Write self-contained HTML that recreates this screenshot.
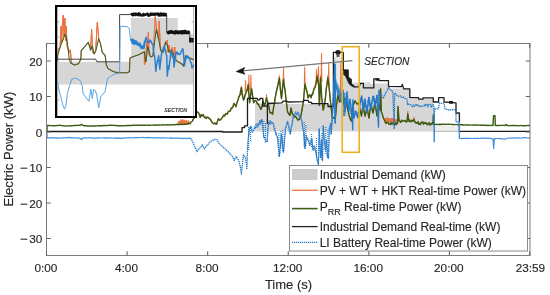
<!DOCTYPE html><html><head><meta charset="utf-8"><style>html,body{margin:0;padding:0;background:#fff;width:550px;height:295px;overflow:hidden}svg{display:block}text{font-family:"Liberation Sans",Arial,sans-serif;fill:#262626;stroke:#262626;stroke-width:0.14px}</style></head><body><svg width="550" height="295" viewBox="0 0 550 295"><polygon points="255.0,131.6 255.0,103.5 263.3,103.5 263.3,104.0 333.4,104.0 333.4,57.0 343.3,57.0 343.3,76.0 350.0,78.0 351.0,82.5 366.5,82.5 366.5,82.3 370.5,82.3 370.5,84.0 374.0,84.0 374.0,83.4 388.5,83.4 388.5,88.5 409.8,88.5 409.8,98.8 433.3,98.8 433.3,131.6" fill="#d6d6d6"/><rect x="335.5" y="55" width="5.5" height="30" fill="#fff" opacity="0.45"/><rect x="433.3" y="126" width="26.1" height="5" fill="#eeeeee"/><path d="M433.3 131.3H459.4" stroke="#b5b5b5" stroke-width="1"/><polyline points="192.5,121.0 193.4,118.8 194.3,118.0 195.1,116.4 195.9,115.0 196.7,111.6 197.6,112.1 198.5,112.8 199.5,115.0 200.3,117.5 201.0,114.6 202.0,116.0 203.2,114.6 204.0,116.6 204.8,117.6 205.6,117.0 206.3,118.6 207.0,117.3 207.8,117.2 208.5,117.6 209.2,118.7 210.1,119.0 210.9,120.1 211.8,122.0 212.5,122.6 213.3,123.6 214.0,123.7 214.7,122.9 215.4,123.6 216.2,124.3 216.9,123.7 217.7,120.3 218.4,118.7 219.1,119.9 219.8,120.2 220.6,119.4 221.3,118.9 222.0,117.8 222.8,116.9 223.7,115.2 224.5,116.1 225.3,114.4 226.0,113.4 226.7,114.1 227.4,114.0 228.2,111.8 228.9,111.3 229.6,111.0 230.4,110.8 231.3,108.0 232.2,108.0 233.0,106.8 233.8,103.4 235.0,105.0 236.0,106.7 237.0,102.4 238.0,100.0 239.0,96.5 240.0,94.9 240.7,89.6 241.4,86.5 242.4,94.8 243.5,100.0 244.3,98.5 245.2,94.1 246.0,92.6 246.7,90.6 247.5,88.0 248.2,83.5 248.9,94.0 249.6,102.6 250.6,95.3 251.6,88.0 252.6,95.9 253.6,102.6 254.5,101.1 255.5,100.4 256.4,101.3 257.4,104.0 258.4,104.0 259.3,106.2 260.1,107.7 261.0,109.4 262.0,106.6 263.0,101.3 263.8,103.2 264.5,105.4 265.5,102.7 266.5,97.9 267.2,101.3 267.9,102.1 268.6,105.4 270.0,112.8 270.9,112.6 271.7,113.2 272.6,114.2 273.5,107.8 274.4,103.1 275.3,97.2 276.2,92.0 277.1,87.8 278.0,83.5 279.4,75.8 280.5,89.6 281.5,98.6 282.5,87.0 283.5,77.4 284.2,84.6 285.0,89.2 286.2,101.3 286.9,106.2 287.6,112.0 288.7,113.7 289.9,115.5 291.0,108.0 292.3,114.0 293.0,114.5 293.7,115.4 294.5,116.9 295.2,116.2 295.9,117.0 297.0,118.5 297.8,120.1 298.6,119.3 299.4,119.7 300.6,117.3 301.5,112.6 302.4,107.8 303.6,99.5 304.9,82.5 305.7,86.1 306.5,89.5 307.2,92.3 308.0,97.9 308.8,96.2 309.5,94.6 310.2,95.4 311.0,97.9 311.8,94.3 312.5,94.5 313.3,91.2 314.1,87.8 314.8,86.5 315.6,84.3 316.4,79.7 317.1,73.8 317.9,78.3 318.7,82.5 319.4,105.5 320.6,75.5 321.7,97.9 322.4,103.5 323.2,110.1 324.0,106.4 324.8,102.5 325.6,95.7 326.3,87.7 327.1,82.5 327.8,75.5 328.6,81.2 329.4,89.5 330.1,98.1 330.9,105.5 331.6,110.9 332.4,117.7 333.2,117.4 334.0,118.4 334.8,118.5 335.5,117.0 336.5,105.0 337.2,100.0 338.0,94.9 338.8,98.7 339.5,102.0 340.2,101.2 341.0,99.0 342.0,102.2 343.0,103.0 344.0,100.3 345.0,98.0 346.0,102.3 347.0,106.0 348.0,110.5 349.0,115.0 350.0,118.0 351.0,121.0 352.0,118.0 353.0,105.0 354.0,103.5 355.0,101.0 356.0,102.4 357.0,104.0 357.9,103.6 358.8,103.0 360.0,110.0 360.8,112.9 361.5,116.0 362.2,111.2 363.0,104.0 364.0,110.6 365.0,116.0 366.0,112.1 367.0,106.0 368.0,113.2 369.0,118.0 370.0,110.3 371.0,104.0 372.0,108.7 373.0,113.0 374.0,108.2 375.0,101.0 376.0,109.5 377.0,116.0 378.0,109.5 379.0,105.0 380.0,110.0 380.6,88.0 381.3,112.0 382.1,113.4 383.0,117.0 384.0,119.1 385.0,121.5 386.0,123.5 386.7,122.3 387.4,122.8 388.2,122.3 388.9,124.0 389.6,124.3 390.4,124.6 391.1,122.5 391.8,124.1 392.5,123.9 393.2,122.5 394.0,124.6 394.7,124.8 395.4,122.7 396.2,124.8 396.9,123.2 397.6,123.5 398.0,106.4 399.0,120.8 399.7,120.8 400.5,122.3 401.2,121.9 401.9,120.1 402.6,120.9 403.4,121.2 404.1,120.8 404.8,120.5 405.5,120.9 406.3,122.1 407.0,121.5 407.8,114.0 409.0,121.5 409.7,120.2 410.4,121.7 411.2,121.3 411.9,120.2 412.6,121.5 414.0,119.4 415.3,122.8 416.0,122.4 416.8,123.3 417.5,123.0 418.3,121.8 419.0,124.4 419.8,123.9 420.5,124.5 421.3,122.1 422.0,122.6 422.8,122.0 423.5,124.2 424.3,122.8 425.0,123.5 425.7,122.5 426.5,123.4 427.2,124.8 427.9,124.6 428.6,123.1 429.4,122.8 430.1,125.0 430.8,124.1 431.5,124.5 432.3,122.8" fill="none" stroke="#e8743f" stroke-width="1.1" stroke-linejoin="round" /><polygon points="177.5,124.5 178.5,121.0 179.5,122.5 180.5,119.5 181.5,121.5 182.5,119.0 183.5,121.0 184.5,119.8 185.5,121.5 186.5,120.0 187.5,121.8 188.5,120.5 189.5,122.0 190.5,124.0" fill="#e8743f" stroke="#e8743f" stroke-width="0.8" stroke-linejoin="round"/><path d="M241.0 95L241.4 87.8L241.8 95M245.1 92L245.5 80.4L245.9 92M248.5 90L248.9 75L249.3 90M250.5 92L250.9 75L251.3 92M266.1 100L266.5 94.6L266.9 100M283.1 84L283.5 67.5L283.9 84M304.3 85L304.7 67L305.09999999999997 85M316.1 82L316.5 69.1L316.9 82M318.1 85L318.5 66.4L318.9 85M321.1 82L321.5 53.5L321.9 82M328.3 85L328.7 63L329.09999999999997 85M340.40000000000003 100L340.8 63L341.2 100M407.40000000000003 117L407.8 111.3L408.2 117M413.6 121L414 117L414.4 121" stroke="#e8743f" stroke-width="1.05" fill="none" stroke-linejoin="round"/><polyline points="385.4,123.0 386.0,118.5 386.8,121.5 387.5,118.0 388.3,121.5 389.0,118.7 389.8,121.5 390.5,119.0 391.3,122.0 392.0,118.5 392.8,121.5 393.5,119.0 394.3,122.0 395.0,119.5 395.8,122.0 396.5,120.0 397.3,123.0" fill="none" stroke="#e8743f" stroke-width="1.5" stroke-linejoin="round" /><polyline points="47.0,131.5 47.0,125.5 47.7,125.5 48.5,125.4 49.2,125.6 49.9,125.5 50.6,125.6 51.4,125.6 52.1,125.6 52.8,125.7 53.5,125.6 54.3,125.8 55.0,125.8 55.7,125.6 56.4,125.5 57.1,125.6 57.9,125.6 58.6,125.3 59.3,125.3 60.0,125.3 60.7,125.4 61.4,125.6 62.1,125.6 62.9,125.7 63.6,125.9 64.3,125.8 65.0,126.0 65.7,126.1 66.4,125.9 67.1,125.9 67.9,125.8 68.6,125.9 69.3,126.0 70.0,125.9 70.7,125.7 71.4,125.8 72.1,125.8 72.9,125.6 73.6,125.6 74.3,125.4 75.0,125.5 75.7,125.3 76.4,125.4 77.1,125.5 77.9,125.4 78.6,125.3 79.3,125.4 80.0,125.3 80.8,124.8 81.5,124.3 82.2,124.8 83.0,125.5 83.7,125.6 84.4,125.7 85.1,125.6 85.8,125.8 86.5,125.8 87.2,126.0 87.9,126.0 88.6,125.9 89.3,126.2 90.0,126.1 90.7,126.0 91.4,126.0 92.1,126.1 92.9,125.9 93.6,126.0 94.3,125.8 95.0,126.0 95.7,126.0 96.4,125.9 97.1,125.9 97.9,125.7 98.6,125.8 99.3,125.8 100.0,125.7 100.7,125.7 101.4,125.6 102.1,125.7 102.9,125.7 103.6,125.5 104.3,125.6 105.0,125.4 105.7,125.5 106.4,125.5 107.1,125.6 107.9,125.5 108.6,125.3 109.3,125.3 110.0,125.3 110.7,125.4 111.4,125.2 112.1,125.4 112.9,125.3 113.6,125.4 114.3,125.4 115.0,125.6 115.7,125.5 116.4,125.5 117.1,125.6 117.9,125.8 118.6,125.6 119.3,125.7 120.0,125.8 120.7,125.8 121.4,125.9 122.1,125.8 122.9,125.8 123.6,125.6 124.3,125.6 125.0,125.6 125.7,125.7 126.4,125.7 127.1,125.5 127.9,125.5 128.6,125.5 129.3,125.4 130.0,125.5 130.7,125.5 131.4,125.5 132.1,125.3 132.9,125.2 133.6,125.3 134.3,125.3 135.0,125.3 135.7,125.4 136.4,125.3 137.1,125.2 137.9,125.2 138.6,125.2 139.3,125.0 140.0,125.1 140.7,125.2 141.4,125.2 142.1,125.3 142.9,125.2 143.6,125.1 144.3,125.2 145.0,125.1 145.7,125.3 146.4,125.1 147.1,125.1 147.9,125.2 148.6,125.2 149.3,125.2 150.0,125.3 150.7,125.1 151.4,125.1 152.1,125.1 152.9,125.1 153.6,125.2 154.3,125.0 155.0,125.3 155.7,125.2 156.4,125.0 157.1,125.0 157.9,125.0 158.6,125.0 159.3,124.9 160.0,125.0 160.7,125.1 161.4,125.1 162.1,125.0 162.9,125.0 163.6,124.8 164.3,124.8 165.0,124.9 165.7,124.9 166.4,125.0 167.1,124.8 167.9,124.8 168.6,125.0 169.3,124.9 170.0,124.9 170.7,124.8 171.5,124.8 172.2,124.6 172.9,124.8 173.6,124.9 174.4,124.8 175.1,124.7 175.8,124.5 176.5,124.5 177.3,124.4 178.0,124.5 178.7,124.6 179.4,124.5 180.1,124.5 180.8,124.4 181.5,124.3 182.2,124.5 182.9,124.5 183.6,124.4 184.3,124.4 185.0,124.3 185.7,124.3 186.4,124.1 187.1,123.9 187.9,123.8 188.6,123.7 189.3,123.5 190.0,123.5 190.8,122.5 191.7,121.8 192.5,121.0 193.4,118.8 194.3,118.0 195.1,116.4 195.9,115.0 196.7,111.6 197.6,112.1 198.5,112.8 199.5,115.0 200.3,117.5 201.0,114.6 202.0,116.0 203.2,114.6 204.0,116.6 204.8,117.6 205.6,117.0 206.3,118.6 207.0,117.3 207.8,117.2 208.5,117.6 209.2,118.7 210.1,119.0 210.9,120.1 211.8,122.0 212.5,122.6 213.3,123.6 214.0,123.7 214.7,122.9 215.4,123.6 216.2,124.3 216.9,123.7 217.7,120.3 218.4,118.7 219.1,119.9 219.8,120.2 220.6,119.4 221.3,118.9 222.0,117.8 222.8,116.9 223.7,115.2 224.5,116.1 225.3,114.4 226.0,113.4 226.7,114.1 227.4,114.0 228.2,111.8 228.9,111.3 229.6,111.0 230.4,110.8 231.3,108.0 232.2,108.0 233.0,106.8 233.8,103.4 235.0,105.0 236.0,106.7 237.0,102.4 238.0,100.0 239.0,96.5 240.0,95.0 240.7,90.4 241.4,87.7 242.4,95.0 243.5,100.0 244.3,98.5 245.2,94.3 246.0,93.0 246.7,91.2 247.5,89.0 248.2,85.0 248.9,94.2 249.6,102.6 250.6,95.4 251.6,89.0 252.6,95.9 253.6,102.6 254.5,101.1 255.5,100.4 256.4,101.3 257.4,104.0 258.4,104.0 259.3,106.2 260.1,107.7 261.0,109.4 262.0,106.6 263.0,101.3 263.8,103.2 264.5,105.4 265.5,102.7 266.5,97.9 267.2,101.3 267.9,102.1 268.6,105.4 270.0,112.8 270.9,112.6 271.7,113.2 272.6,114.2 273.5,107.8 274.4,103.1 275.3,97.2 276.2,92.5 277.1,88.8 278.0,85.0 279.4,78.3 280.5,90.4 281.5,98.6 282.5,88.1 283.5,79.7 284.2,86.0 285.0,90.0 286.2,101.3 286.9,106.2 287.6,112.0 288.7,113.7 289.9,115.5 291.0,108.0 292.3,114.0 293.0,114.5 293.7,115.4 294.5,116.9 295.2,116.2 295.9,117.0 297.0,118.5 297.8,120.1 298.6,119.3 299.4,119.7 300.6,117.3 301.5,112.6 302.4,107.8 303.6,99.5 304.9,84.2 305.7,87.3 306.5,90.3 307.2,92.8 308.0,97.9 308.8,96.2 309.5,94.8 310.2,95.5 311.0,97.9 311.8,94.5 312.5,94.7 313.3,91.8 314.1,88.8 314.8,87.7 315.6,85.7 316.4,81.7 317.1,76.5 317.9,80.5 318.7,84.2 319.4,105.5 320.6,78.0 321.7,97.9 322.4,103.5 323.2,110.1 324.0,106.4 324.8,102.5 325.6,95.8 326.3,88.7 327.1,84.1 327.8,78.0 328.6,83.0 329.4,90.3 330.1,98.1 330.9,105.5 331.6,110.9 332.4,117.7 333.2,117.4 334.0,118.4 334.8,118.5 335.5,117.0 336.5,105.0 337.2,100.0 338.0,95.0 338.8,98.7 339.5,102.0 340.2,101.2 341.0,99.0 342.0,102.2 343.0,103.0 344.0,100.3 345.0,98.0 346.0,102.3 347.0,106.0 348.0,110.5 349.0,115.0 350.0,118.0 351.0,121.0 352.0,118.0 353.0,105.0 354.0,103.5 355.0,101.0 356.0,102.4 357.0,104.0 357.9,103.6 358.8,103.0 360.0,110.0 360.8,112.9 361.5,116.0 362.2,111.2 363.0,104.0 364.0,110.6 365.0,116.0 366.0,112.1 367.0,106.0 368.0,113.2 369.0,118.0 370.0,110.3 371.0,104.0 372.0,108.7 373.0,113.0 374.0,108.2 375.0,101.0 376.0,109.5 377.0,116.0 378.0,109.5 379.0,105.0 380.0,110.0 380.6,89.0 381.3,112.0 382.1,113.4 383.0,117.0 384.0,119.1 385.0,121.5 386.0,123.5 386.7,122.3 387.4,122.8 388.2,122.3 388.9,124.0 389.6,124.3 390.4,124.6 391.1,122.5 391.8,124.1 392.5,123.9 393.2,122.5 394.0,124.6 394.7,124.8 395.4,122.7 396.2,124.8 396.9,123.2 397.6,123.5 398.0,106.4 399.0,120.8 399.7,120.8 400.5,122.3 401.2,121.9 401.9,120.1 402.6,120.9 403.4,121.2 404.1,120.8 404.8,120.5 405.5,120.9 406.3,122.1 407.0,121.5 407.8,114.0 409.0,121.5 409.7,120.2 410.4,121.7 411.2,121.3 411.9,120.2 412.6,121.5 414.0,119.4 415.3,122.8 416.0,122.4 416.8,123.3 417.5,123.0 418.3,121.8 419.0,124.4 419.8,123.9 420.5,124.5 421.3,122.1 422.0,122.6 422.8,122.0 423.5,124.2 424.3,122.8 425.0,123.5 425.7,122.5 426.5,123.4 427.2,124.8 427.9,124.6 428.6,123.1 429.4,122.8 430.1,125.0 430.8,124.1 431.5,124.5 432.3,122.8 433.0,124.0 433.3,115.0 433.8,124.5 434.5,124.4 435.3,124.5 436.0,124.4 436.8,124.3 437.5,124.6 438.3,124.5 439.0,124.5 439.8,124.3 440.5,124.5 441.3,124.2 442.0,124.5 442.8,124.3 443.5,124.3 444.3,124.3 445.0,124.3 445.7,124.5 446.4,124.3 447.1,124.3 447.9,124.4 448.6,124.3 449.3,124.3 450.0,124.4 450.7,124.4 451.4,124.4 452.1,124.5 452.9,124.5 453.6,124.7 454.3,124.5 455.0,124.6 455.7,124.6 456.4,124.6 457.1,124.6 457.9,124.7 458.6,124.6 459.3,124.8 460.0,124.8 460.7,124.8 461.4,124.7 462.1,124.8 462.9,125.0 463.6,124.8 464.3,125.0 465.0,124.9 465.7,124.9 466.4,125.0 467.1,124.9 467.9,125.0 468.6,125.0 469.3,125.1 470.0,125.0 470.7,125.1 471.4,125.1 472.1,125.1 472.9,125.0 473.6,125.0 474.3,125.0 475.0,125.1 475.7,125.0 476.4,125.0 477.2,125.2 477.9,125.1 478.6,125.1 479.3,125.1 480.0,125.3 480.8,125.3 481.5,125.3 482.2,125.2 482.9,125.2 483.6,125.2 484.4,125.3 485.1,125.2 485.8,125.3 486.5,125.3 487.2,125.5 488.0,125.5 488.7,125.4 489.4,125.3 490.1,125.6 490.8,125.4 491.6,125.4 492.3,125.3 493.0,125.5 493.5,115.7 494.2,115.7 495.0,115.7 495.3,125.5 496.0,125.5 496.8,125.5 497.5,125.4 498.3,125.5 499.0,125.4 499.8,125.4 500.5,125.4 501.3,125.5 502.0,125.4 502.8,125.4 503.5,125.4 504.3,125.4 505.0,125.5 506.0,124.5 507.0,125.5 507.7,125.5 508.4,125.5 509.2,125.6 509.9,125.6 510.6,125.6 511.3,125.6 512.0,125.5 512.8,125.5 513.5,125.7 514.2,125.4 514.9,125.6 515.6,125.6 516.3,125.4 517.1,125.6 517.8,125.7 518.5,125.6 519.2,125.6 519.9,125.6 520.7,125.5 521.4,125.6 522.1,125.6 522.8,125.7 523.5,125.7 524.2,125.7 525.0,125.6 525.7,125.7 526.4,125.6 527.1,125.6 527.8,125.5 528.6,125.5 529.3,125.5 530.0,125.6" fill="none" stroke="#3a5c12" stroke-width="1.4" stroke-linejoin="round" /><polyline points="46.5,131.5 222.6,131.5 222.6,132.0 242.0,132.0 242.0,127.6 244.5,127.6 244.5,125.8 247.5,125.8 247.5,98.3 257.3,98.3 257.6,99.8 259.8,99.8 260.0,98.3 262.8,98.3 262.8,106.2 267.4,106.2 267.4,123.5 267.4,103.5 282.0,102.8 283.0,101.2 287.0,101.2 288.0,102.0 303.6,101.7 303.6,100.4 308.0,100.4 309.0,102.4 311.7,102.4 311.7,103.7 328.0,103.7 328.0,106.5 333.4,106.5 333.4,52.3 343.3,52.3 343.3,70.4 348.1,70.4 348.1,77.3 351.2,79.5 351.2,84.0 354.2,86.4 354.2,86.9 359.0,86.9 360.3,83.4 363.4,83.4 363.4,87.8 373.8,87.8 373.8,78.8 379.0,78.8 379.0,80.6 388.5,80.6 388.5,86.3 401.4,86.6 402.3,84.4 403.7,88.8 409.8,88.8 409.8,97.6 418.6,97.6 418.6,99.2 423.0,99.2 423.0,97.8 433.3,97.8 433.3,102.0 438.6,102.0 438.6,97.6 444.0,97.6 444.0,102.0 450.0,102.3 456.0,102.8 456.0,113.0 459.4,113.0 459.4,131.4 530.0,131.4" fill="none" stroke="#1c1c1c" stroke-width="1.3" stroke-linejoin="round" stroke-linejoin="miter"/><polygon points="343.3,69.5 348.3,69.5 348.3,77.3 351.2,79.5 351.2,83.5 354.2,85.5 354.2,87.5 351,86 348.5,83.5 346.5,79 345,76 343.3,75" fill="#1c1c1c"/><path d="M375.5 79.5h3.5M449 102.4h4" stroke="#1c1c1c" stroke-width="2.6"/><ellipse cx="338" cy="52.4" rx="2.6" ry="2.4" fill="#1c1c1c"/><path d="M336.5 54.5h3v2.5h-3z" fill="#555"/><polyline points="47.0,131.5 47.0,137.8 47.8,137.7 48.6,137.8 49.4,137.8 50.2,137.9 51.1,137.9 51.9,137.7 52.7,137.6 53.5,138.1 54.3,137.8 55.1,137.8 55.9,138.2 56.8,137.9 57.6,138.1 58.4,138.0 59.2,138.1 60.0,138.0 60.8,137.8 61.7,138.0 62.5,138.1 63.3,137.9 64.2,138.0 65.0,137.9 65.8,137.5 66.7,137.9 67.5,137.7 68.3,137.6 69.2,137.4 70.0,137.6 70.8,137.8 71.7,137.7 72.5,137.8 73.3,137.9 74.2,137.9 75.0,138.0 75.8,137.8 76.7,138.0 77.5,137.9 78.3,138.2 79.2,138.2 80.0,138.0 81.5,139.5 83.0,138.0 83.8,137.8 84.6,137.8 85.4,137.8 86.2,138.2 87.0,137.9 87.9,138.0 88.7,137.8 89.5,137.9 90.3,137.9 91.1,137.8 91.9,137.9 92.7,137.9 93.5,138.1 94.3,138.0 95.1,138.1 96.0,138.0 96.8,138.1 97.6,137.9 98.4,137.7 99.2,138.0 100.0,137.8 100.8,138.0 101.6,138.0 102.4,137.9 103.2,138.0 104.0,137.7 104.8,138.1 105.6,137.9 106.4,137.8 107.2,137.7 108.0,138.1 108.8,138.2 109.6,137.8 110.4,138.2 111.2,138.0 112.0,137.9 112.8,138.0 113.6,138.2 114.4,138.3 115.2,137.9 116.0,138.2 116.8,137.9 117.6,138.3 118.4,138.1 119.2,138.4 120.0,138.2 120.8,138.4 121.6,138.1 122.4,138.4 123.2,138.0 124.0,137.8 124.8,138.1 125.6,137.8 126.4,137.8 127.2,137.9 128.0,138.0 128.8,137.7 129.6,137.6 130.4,138.0 131.2,137.7 132.0,138.0 132.8,138.0 133.6,137.7 134.4,137.7 135.2,137.7 136.0,137.7 136.8,137.7 137.6,137.6 138.4,137.6 139.2,137.7 140.0,137.5 140.8,137.5 141.6,137.5 142.4,137.7 143.2,137.4 144.0,137.5 144.8,137.8 145.6,137.6 146.4,137.7 147.2,137.4 148.0,137.6 148.8,137.7 149.6,137.5 150.4,137.8 151.2,137.8 152.0,137.5 152.8,137.8 153.6,137.8 154.4,137.9 155.2,137.7 156.0,137.9 156.8,138.0 157.6,137.6 158.4,137.6 159.2,138.0 160.0,137.9 160.8,138.1 161.6,137.8 162.4,137.9 163.2,138.0 164.1,137.9 164.9,137.9 165.7,137.9 166.5,138.0 167.3,138.1 168.1,138.0 168.9,138.0 169.8,138.2 170.6,137.9 171.4,138.2 172.2,138.3 173.0,138.1 173.8,138.0 174.6,138.3 175.4,138.1 176.2,138.1 177.1,138.2 177.9,138.3 178.7,138.1 179.5,138.2 180.3,138.2 181.1,138.5 181.9,138.3 182.8,138.5 183.6,138.2 184.4,138.3 185.2,138.5 186.0,138.4 186.9,138.6 187.9,138.4 188.8,138.3 189.8,138.2 190.7,138.4" fill="none" stroke="#4391dc" stroke-width="1.2" stroke-linejoin="round" /><polyline points="190.7,138.4 191.6,140.1 192.6,141.7 193.5,143.6 194.3,145.8 195.2,147.8 196.1,149.5 196.9,151.7 197.9,150.2 198.9,149.0 199.8,148.1 200.6,147.0 201.5,146.1 202.3,144.9 203.3,146.9 204.3,149.0 205.4,147.5 206.4,146.3 207.2,145.2 208.0,144.5 208.8,143.3 209.6,142.4 210.4,141.5 211.2,141.1 212.0,140.7 212.9,140.3 213.7,140.1 214.5,139.5 215.4,139.4 216.3,139.5 217.2,139.8 218.2,141.9 219.2,143.6 220.1,144.6 220.9,145.4 221.8,145.9 222.7,146.9 223.6,147.7 224.4,148.1 225.3,149.0 226.1,149.9 226.9,150.8 227.8,151.5 228.6,152.2 229.4,153.0 230.2,153.9 231.1,155.0 232.0,155.9 232.8,157.1 234.2,160.5 235.2,158.3 236.2,156.5 237.3,158.3 238.5,160.0 239.4,163.2 240.3,166.6 241.4,174.0 242.4,164.7 243.5,155.0 244.5,156.1 245.5,157.6 246.9,168.5 247.5,149.3 248.2,140.0 249.6,127.6 251.0,126.3 252.3,131.7 253.2,131.4 254.1,129.2 255.0,127.0 255.8,127.9 256.7,127.3 257.5,126.8 258.4,125.0 259.2,123.9 260.1,120.7 260.9,121.7 261.8,119.5 262.8,127.2 263.8,137.0 264.9,138.5 265.9,141.2 267.2,142.0 268.0,127.6 268.6,122.9 269.5,123.2 270.4,122.5 271.3,122.2 272.3,122.6 273.3,123.6 274.3,129.1 275.3,131.7 276.4,134.7 277.4,137.0 278.4,146.1 279.4,156.3 280.4,144.6 281.5,134.4 282.5,144.5 283.5,152.2 284.5,139.8 285.5,127.6 286.6,125.5 287.6,121.5 288.5,125.3 289.4,129.1 290.3,134.4 291.2,128.7 292.1,123.8 293.0,117.0 294.2,113.9 295.4,113.0 296.3,114.1 297.2,114.7 298.1,113.5 299.0,116.0 300.0,117.5 300.9,118.0 301.8,120.9 302.7,127.3 303.6,131.3 305.0,149.0 306.3,135.4 307.3,138.9 308.3,140.0 309.1,141.1 310.0,145.0 310.9,140.8 311.7,138.0 313.0,150.0 314.4,146.0 315.4,150.3 316.5,156.0 317.4,160.3 318.4,164.5 319.2,128.6 320.5,158.0 321.5,140.0 322.5,160.5 323.2,125.9 324.2,137.7 325.3,150.0 326.5,140.0 327.3,157.0 328.5,158.5 329.3,128.6 330.7,123.1 331.2,134.0 332.0,122.0 333.2,100.0 334.0,81.9 334.8,64.0 335.2,123.0 335.4,100.0 335.0,82.0 336.0,86.9 337.0,90.0 337.8,90.6 338.6,93.0 339.4,95.4 340.2,97.6 341.0,101.0 342.0,94.1 343.0,90.0 344.0,102.5 345.0,112.0 346.0,103.1 347.0,92.0 347.9,99.7 348.7,110.0 350.0,99.0 351.2,109.5 352.4,120.0 352.6,130.0 353.0,100.0 354.0,118.0 355.0,114.4 356.0,112.0 357.0,114.4 358.0,118.0 359.0,110.5 360.0,104.0 360.9,100.5 361.7,96.0 363.0,110.0 364.0,104.8 365.0,99.0 366.0,105.1 367.0,112.0 368.0,103.5 369.0,97.0 370.0,103.0 371.0,110.0 372.0,101.8 373.0,96.0 374.0,101.2 375.0,106.0 376.0,101.2 377.0,95.0 378.5,127.0 379.0,90.0 380.0,95.0 380.8,95.5 381.6,95.5 382.5,96.7 383.3,98.6 384.2,96.0 385.1,94.5 386.0,92.0 387.0,91.3 388.0,88.4 389.0,87.2 389.9,89.4 390.9,90.0 391.9,90.6 392.8,92.0 394.2,129.0 394.6,93.0 395.6,93.6 396.6,95.0 397.6,96.0 398.8,96.6 400.0,96.0 400.8,96.1 401.6,97.4 402.4,97.1 403.2,96.8 404.0,98.0 405.0,98.4 406.0,99.3 407.0,99.0 407.5,104.5 408.3,103.3 409.2,104.6 410.0,105.0 410.8,104.8 411.7,106.3 412.5,106.5 413.3,104.8 414.2,106.5 415.0,106.2 415.8,104.5 416.7,105.2 417.5,104.2 418.3,106.4 419.2,106.0 420.0,105.5 420.8,106.8 421.6,106.5 422.4,106.1 423.2,106.4 424.1,105.9 424.9,104.4 425.7,106.0 426.5,104.2 427.3,104.6 428.1,106.7 428.9,104.4 429.7,104.5 430.6,104.6 431.4,107.1 432.2,104.9 433.0,104.4 433.8,106.0 434.2,141.7 434.5,108.7 435.5,108.9 436.4,108.5 437.4,108.9 438.4,108.7 439.5,103.1 440.4,103.2 441.3,103.3 442.2,103.3 443.1,103.1 444.0,103.1 445.0,109.0 445.8,109.3 446.6,109.2 447.4,109.7 448.2,109.8 449.0,110.0 449.9,110.1 450.8,109.7 451.6,110.0 452.5,110.0 453.4,109.5 454.2,109.6 455.1,109.7 456.0,109.6 456.0,121.9 456.9,122.1 457.7,121.8 458.5,121.7 459.4,121.9 459.4,138.5" fill="none" stroke="#2479c8" stroke-width="1.3" stroke-linejoin="round" stroke-dasharray="1.4 0.7"/><polyline points="459.4,121.9 459.4,138.5 460.2,138.4 461.0,138.5 461.8,138.6 462.6,138.4 463.4,138.4 464.2,138.4 465.0,138.4 465.8,138.4 466.6,138.2 467.5,138.4 468.3,138.6 469.1,138.4 469.9,138.5 470.7,138.2 471.5,138.5 472.3,138.5 473.1,138.5 473.9,138.4 474.7,138.3 475.5,138.4 476.3,138.5 477.1,138.2 477.9,138.1 478.7,138.4 479.5,138.5 480.3,138.3 481.1,138.3 481.9,138.4 482.8,138.1 483.6,138.1 484.4,138.1 485.2,138.3 486.0,138.1 486.8,138.1 487.6,138.3 488.4,138.4 489.2,138.1 490.0,138.2 491.0,138.6 492.0,138.7 493.0,139.0 493.7,148.7 494.3,138.5 495.1,138.7 496.0,138.6 496.8,138.5 497.6,138.5 498.5,138.4 499.3,138.7 500.1,138.7 501.0,138.6 501.8,138.8 502.7,138.8 503.5,139.0 504.3,138.8 505.2,139.2 506.0,139.0 507.0,138.5 508.0,138.0 508.8,138.0 509.6,138.0 510.4,138.1 511.3,138.1 512.1,138.0 512.9,137.9 513.7,138.1 514.5,138.1 515.3,137.9 516.1,138.0 517.0,138.1 517.8,137.9 518.6,137.8 519.4,137.8 520.2,138.0 521.0,138.0 521.9,138.1 522.7,138.0 523.5,137.7 524.3,137.7 525.1,137.7 525.9,137.7 526.7,137.9 527.6,138.0 528.4,138.0 529.2,137.7 530.0,137.8" fill="none" stroke="#4391dc" stroke-width="1.2" stroke-linejoin="round" /><polyline points="247.5,149.3 248.2,140.0 248.7,133.9 249.1,132.9 249.6,127.6 250.1,128.0 250.5,126.6 251.0,126.3 251.7,127.3 252.3,131.7 252.8,132.5 253.4,131.7 253.9,129.0 254.5,128.0 255.0,127.0 255.5,125.1 256.0,123.4 256.5,125.4 256.9,126.4 257.4,123.0 257.9,127.0 258.4,125.0 258.9,122.6 259.4,121.8 259.9,119.9 260.3,124.8 260.8,122.5 261.3,122.5 261.8,119.5 262.3,124.6 262.8,125.5 263.3,131.6 263.8,137.0 264.3,138.0 264.9,136.8 265.4,142.9 265.9,141.2 266.5,140.8 267.2,142.0 268.0,127.6 268.6,122.9 269.1,120.7 269.7,124.5 270.2,120.2 270.8,124.9 271.3,122.2 271.8,122.3 272.3,123.2 272.8,122.3 273.3,123.6 273.8,125.5 274.3,125.8 274.8,126.9 275.3,131.7 275.8,135.2 276.4,132.8 276.9,137.4 277.4,137.0 277.9,140.1 278.4,149.5 278.9,153.8 279.4,156.3 279.9,152.4 280.4,146.9 281.0,140.4 281.5,134.4 282.0,140.2 282.5,141.0 283.0,147.6 283.5,152.2 284.0,148.0 284.5,138.1 285.0,136.3 285.5,127.6 286.0,128.4 286.6,124.0 287.1,122.2 287.6,121.5 288.1,123.8 288.7,126.0 289.2,132.2 289.8,131.1 290.3,134.4 290.8,128.1 291.4,125.0 291.9,125.3 292.5,123.4 293.0,117.0 293.5,116.2 294.0,115.3 294.4,114.9 294.9,115.3 295.4,113.0 295.8,111.4 296.3,113.8 296.8,113.6 297.2,114.1 297.7,111.5 298.1,113.5 298.6,112.3 299.0,114.1 299.5,118.3 300.0,115.6 300.4,117.8 300.9,118.0 301.3,119.1 301.8,120.1 302.2,122.0 302.7,128.7 303.2,130.7 303.6,131.3 304.1,136.4 304.5,144.2 305.0,149.0 305.6,143.3 306.3,135.4 306.8,138.9 307.3,140.4 307.8,138.3 308.3,140.0 308.9,144.6 309.4,146.1 310.0,145.0 310.6,143.2 311.1,142.6 311.7,138.0 312.4,143.9 313.0,150.0 313.5,147.9 313.9,145.8 314.4,146.0 314.9,150.8 315.4,149.0 316.0,150.9 316.5,156.0 317.0,160.0 317.4,161.9 317.9,162.3 318.4,164.5 319.2,128.6 319.9,145.3 320.5,158.0 321.0,146.3 321.5,140.0 322.0,148.8 322.5,160.5 323.2,125.9 323.7,130.7 324.2,137.5 324.8,142.0 325.3,150.0 325.9,142.4 326.5,140.0 327.3,157.0 327.9,156.8 328.5,158.5 329.3,128.6 329.8,129.2 330.2,127.8 330.7,123.1 331.2,134.0 332.0,122.0" fill="none" stroke="#2479c8" stroke-width="0.9" stroke-linejoin="round" stroke-dasharray="1 0.8"/><polyline points="332.0,122.0 333.2,100.0 334.0,81.8 334.8,64.0 335.2,123.0 335.4,100.0 335.0,82.0 336.0,86.2 337.0,90.0 337.8,93.9 338.6,94.3 339.4,96.6 340.2,99.1 341.0,101.0 342.0,94.2 343.0,90.0 344.0,101.0 345.0,112.0 346.0,102.5 347.0,92.0 347.9,102.2 348.7,110.0 350.0,99.0 350.8,104.4 351.6,112.2 352.4,120.0 352.6,130.0 353.0,100.0 354.0,118.0 355.0,113.4 356.0,112.0 357.0,116.2 358.0,118.0 359.0,111.8 360.0,104.0 360.9,98.2 361.7,96.0 363.0,110.0 364.0,106.4 365.0,99.0 366.0,107.4 367.0,112.0 368.0,105.1 369.0,97.0 370.0,104.0 371.0,110.0 372.0,101.6 373.0,96.0 374.0,99.1 375.0,106.0 376.0,100.6 377.0,95.0 377.8,109.2 378.5,127.0 379.0,90.0 380.0,95.0" fill="none" stroke="#2479c8" stroke-width="1.1" stroke-linejoin="round" /><path d="M335.2 64V118" stroke="#2479c8" stroke-width="1.8" stroke-dasharray="1.2 0.9"/><path d="M248.6 127V150M250.6 126V141M263.8 121V139M265.6 123V141M278.8 133V156M280.9 131V149M282.8 130V152M304.2 122V147M305.8 125V146M311.5 134V148M316.5 138V158M321.8 133V160M325.8 127V155M327.8 130V157" stroke="#2479c8" stroke-width="1.2" stroke-dasharray="1.1 0.9" fill="none"/><path d="M335 80L341.2 96.4M344.3 93V116M346 100L353 117M355 111L358.5 116M362 100L366 108M368 100L371 108M373 96L376 104" stroke="#2479c8" stroke-width="2.4" fill="none" stroke-dasharray="1.6 0.6"/><rect x="46.5" y="43.5" width="483.5" height="212" fill="none" stroke="#7d7d7d" stroke-width="1"/><path d="M46.50 255.5v-4.3M46.50 43.5v4.3M127.08 255.5v-4.3M127.08 43.5v4.3M207.67 255.5v-4.3M207.67 43.5v4.3M288.25 255.5v-4.3M288.25 43.5v4.3M368.83 255.5v-4.3M368.83 43.5v4.3M449.42 255.5v-4.3M449.42 43.5v4.3M529.66 255.5v-4.3M529.66 43.5v4.3M46.5 61.00h4.3M530 61.00h-4.3M46.5 96.50h4.3M530 96.50h-4.3M46.5 132.00h4.3M530 132.00h-4.3M46.5 167.50h4.3M530 167.50h-4.3M46.5 203.00h4.3M530 203.00h-4.3M46.5 238.50h4.3M530 238.50h-4.3" stroke="#666" stroke-width="1.1" fill="none"/><text x="45.90" y="272.2" font-size="11.8" text-anchor="middle">0:00</text><text x="126.48" y="272.2" font-size="11.8" text-anchor="middle">4:00</text><text x="207.07" y="272.2" font-size="11.8" text-anchor="middle">8:00</text><text x="287.65" y="272.2" font-size="11.8" text-anchor="middle">12:00</text><text x="368.23" y="272.2" font-size="11.8" text-anchor="middle">16:00</text><text x="448.82" y="272.2" font-size="11.8" text-anchor="middle">20:00</text><text x="530.40" y="272.2" font-size="11.8" text-anchor="middle">23:59</text><text x="42.3" y="65.60" font-size="11.8" text-anchor="end">20</text><text x="42.3" y="101.10" font-size="11.8" text-anchor="end">10</text><text x="42.3" y="136.60" font-size="11.8" text-anchor="end">0</text><text x="42.3" y="172.10" font-size="11.8" text-anchor="end">10</text><text transform="translate(20.2 172.40) scale(1.15 1)" font-size="11.8">−</text><text x="42.3" y="207.60" font-size="11.8" text-anchor="end">20</text><text transform="translate(20.2 207.90) scale(1.15 1)" font-size="11.8">−</text><text x="42.3" y="243.10" font-size="11.8" text-anchor="end">30</text><text transform="translate(20.2 243.40) scale(1.15 1)" font-size="11.8">−</text><text x="288.5" y="289" font-size="13" text-anchor="middle">Time (s)</text><text transform="translate(13.3 149.1) rotate(-90)" font-size="13.1" text-anchor="middle">Electric Power (kW)</text><rect x="56" y="6" width="140" height="111" fill="#fff"/><polygon points="57.4,84.5 57.4,61.8 131.1,61.8 131.1,18.1 177.7,18.1 177.7,34.2 193.8,34.2 193.8,84.5" fill="#d6d6d6"/><path d="M57.6 7V116M193.6 7V116" stroke="#999" stroke-width="0.8"/><path d="M57.6 22.1h2M57.6 37.1h2M57.6 100h2M193.6 22.1h-2" stroke="#999" stroke-width="0.8"/><polyline points="57.6,55.0 58.0,49.8 60.1,46.7 61.1,26.4 61.7,42.7 62.5,22.3 63.3,15.2 64.1,36.5 64.8,18.2 65.6,40.6 66.2,26.4 67.2,46.7 69.2,52.8 70.3,49.8 71.3,60.0 71.6,63.2 74.4,65.0 78.5,63.8 80.8,59.2 81.3,50.3 83.6,48.0 88.3,42.3 90.6,48.8 91.6,29.4 92.7,52.8 94.0,53.8 95.7,50.0 97.3,22.3 98.8,38.6 100.4,43.4 102.3,52.3 105.2,55.7 106.3,65.0 108.0,68.6 113.2,71.5 115.0,72.1 119.6,72.7 127.6,72.7 129.4,71.5 130.0,58.0 132.3,56.9 139.2,54.6 144.4,51.7 144.4,65.0 145.5,61.5 147.0,40.0 147.7,46.5 148.4,32.5 149.0,55.0 150.6,56.9 152.9,56.0 155.2,16.4 156.4,29.0 158.7,39.6 159.2,21.0 160.4,50.0 161.0,51.1 163.3,52.3 165.6,41.9 167.3,40.0 168.0,52.0 169.0,45.0 170.0,52.3 171.3,50.0 172.5,47.0 173.6,60.0 174.8,47.0 176.0,60.3 178.3,62.1 181.7,63.8 183.4,66.1 185.7,55.7 189.8,58.0 193.6,59.8" fill="none" stroke="#ea6a32" stroke-width="0.9" stroke-linejoin="round" /><polyline points="58.0,49.8 60.1,46.7 61.1,26.4 61.7,42.7 62.5,22.3 63.3,15.2 64.1,36.5 64.8,18.2 65.6,40.6 66.2,26.4 67.2,46.7 69.2,52.8 70.3,49.8 71.3,60.0" fill="none" stroke="#ec7040" stroke-width="1.0" stroke-linejoin="round" /><polyline points="90.6,48.8 91.6,29.4 92.7,52.8" fill="none" stroke="#ec7040" stroke-width="1.0" stroke-linejoin="round" /><polyline points="95.7,50.0 97.3,22.3 98.8,38.6" fill="none" stroke="#ec7040" stroke-width="1.0" stroke-linejoin="round" /><polyline points="144.4,51.7 144.4,65.0 145.5,61.5 147.0,40.0 147.7,46.5 148.4,32.5 149.0,55.0" fill="none" stroke="#ec7040" stroke-width="1.0" stroke-linejoin="round" /><polyline points="155.2,16.4 156.4,29.0 158.7,39.6 159.2,21.0 160.4,50.0" fill="none" stroke="#ec7040" stroke-width="1.0" stroke-linejoin="round" /><polyline points="167.3,40.0 168.0,52.0 169.0,45.0 170.0,52.3 171.3,50.0 172.5,47.0 173.6,60.0 174.8,47.0" fill="none" stroke="#ec7040" stroke-width="1.0" stroke-linejoin="round" /><polyline points="57.6,61.5 57.7,55.0 59.5,49.2 61.8,42.3 63.5,38.8 64.6,34.2 66.4,37.7 68.1,48.0 69.2,59.2 71.0,63.2 74.4,65.0 78.5,63.8 80.8,59.2 81.3,50.3 83.6,48.0 88.3,42.3 90.6,50.3 92.3,45.7 94.0,53.8 95.7,51.5 98.6,38.8 100.4,43.4 102.3,52.3 105.2,55.7 106.3,65.0 108.0,68.6 113.2,71.5 115.0,72.1 119.6,72.7 127.6,72.7 129.4,71.5 130.0,58.0 132.3,56.9 139.2,54.6 144.4,51.7 145.5,61.5 146.0,61.5 147.7,46.5 150.6,56.9 152.9,56.0 155.2,37.3 156.4,29.0 158.7,39.6 161.0,51.1 163.3,52.3 165.6,41.9 167.3,45.4 169.0,52.3 171.3,50.0 173.6,54.6 176.0,60.3 178.3,62.1 181.7,63.8 183.4,66.1 185.7,55.7 189.8,58.0 193.6,59.8" fill="none" stroke="#40602a" stroke-width="1.1" stroke-linejoin="round" /><polyline points="57.6,59.2 95.7,59.2 96.9,61.8 119.6,61.8 119.6,14.6 131.1,14.6 166.7,15.0 166.7,32.5 189.8,32.2 189.8,38.3 193.6,39.0" fill="none" stroke="#444" stroke-width="1.0" stroke-linejoin="round" stroke-linejoin="miter"/><polyline points="131.2,14.5 131.7,13.9 132.1,14.9 132.6,14.9 133.0,15.3 133.5,13.7 133.9,13.9 134.4,13.7 134.8,13.8 135.3,15.1 135.7,13.6 136.2,14.6 136.6,13.8 137.1,14.0 137.5,14.3 138.0,15.3 138.4,14.8 138.9,13.3 139.3,14.0 139.8,13.7 140.3,15.4 140.7,15.2 141.2,15.2 141.6,15.3 142.1,15.1 142.5,15.6 143.0,15.2 143.4,13.9 143.9,15.3 144.3,14.5 144.8,15.1 145.2,14.7 145.7,14.3 146.1,14.2 146.6,14.3 147.0,14.1 147.5,13.6 147.9,15.3 148.4,15.2 148.8,15.7 149.3,15.0 149.8,14.6 150.2,15.1 150.7,13.6 151.1,14.9 151.6,14.4 152.0,13.7 152.5,13.8 152.9,14.6 153.4,13.9 153.8,14.4 154.3,14.8 154.7,14.2 155.2,13.6 155.6,14.5 156.1,13.9 156.5,13.9 157.0,13.8 157.4,14.2 157.9,13.5 158.4,14.9 158.8,15.6 159.3,14.2 159.7,15.0 160.2,15.5 160.6,13.4 161.1,13.6 161.5,15.2 162.0,15.3 162.4,14.8 162.9,13.7 163.3,14.3 163.8,15.4 164.2,15.4 164.7,15.2 165.1,13.8 165.6,15.3 166.0,14.2 166.5,14.5" fill="none" stroke="#111" stroke-width="2.4" stroke-linejoin="round" /><polyline points="167.0,32.2 167.5,32.3 167.9,32.9 168.4,33.3 168.8,31.7 169.3,32.8 169.7,32.7 170.2,32.6 170.6,31.3 171.1,31.1 171.5,31.9 172.0,32.8 172.4,31.6 172.9,32.2 173.3,31.8 173.8,33.0 174.2,33.3 174.7,32.0 175.1,33.4 175.6,31.1 176.0,33.0 176.5,33.1 176.9,31.4 177.4,32.7 177.8,32.3 178.3,33.3 178.8,31.5 179.2,32.3 179.7,33.1 180.1,32.5 180.6,31.7 181.0,31.2 181.5,33.3 181.9,32.1 182.4,33.4 182.8,31.3 183.3,32.9 183.7,33.0 184.2,33.2 184.6,31.0 185.1,31.9 185.5,31.1 186.0,32.8 186.4,31.9 186.9,33.3 187.3,31.9 187.8,32.9 188.2,33.1 188.7,31.6 189.1,32.3 189.6,32.2" fill="none" stroke="#111" stroke-width="2.4" stroke-linejoin="round" /><path d="M190.2 37.5v5M192.5 38v4.5" stroke="#111" stroke-width="2.2"/><polyline points="57.4,81.4 58.8,89.2 61.7,100.6 62.8,104.9 64.5,109.2 66.0,104.9 67.4,93.5 69.5,85.7 71.7,79.3 76.0,78.1 80.2,80.7 82.4,86.4 83.0,93.5 86.0,97.8 88.8,101.4 90.9,89.2 92.3,98.5 93.7,89.2 95.2,90.7 96.6,94.0 98.7,107.8 100.3,99.3 101.2,95.5 105.0,92.2 107.5,78.4 113.8,74.4 119.0,73.2 119.6,72.0 120.2,26.2 127.6,26.7 129.4,29.0 130.5,40.0" fill="none" stroke="#5aa3e0" stroke-width="1.0" stroke-linejoin="round" /><polyline points="145.0,41.0 145.5,39.5 146.0,37.3 146.6,39.1 147.2,40.4 147.7,41.9 148.3,41.9 148.9,42.2 149.4,42.4 150.0,39.9 150.6,40.8 151.2,41.6 151.8,43.7 152.3,43.7 152.9,44.2 153.4,49.8 154.0,53.4 154.6,56.4 155.2,61.5 155.8,71.5 156.4,66.1 157.0,63.4 157.6,60.2 158.1,58.4 158.7,55.7 159.2,62.6 159.8,69.2 160.4,63.1 160.9,58.9 161.5,54.2 162.1,50.0 162.7,50.2 163.2,48.9 163.8,46.5 164.4,46.5 165.0,49.6 165.6,50.2 166.1,53.7 166.7,55.7 167.3,76.1 167.9,70.1 168.5,66.1 169.0,69.0 169.6,62.1 170.2,58.8 170.8,52.3 171.4,52.7 171.9,53.8 172.5,57.0 173.0,57.8 173.6,58.0 174.0,66.9 174.5,62.7 175.0,60.8 175.5,56.1 176.0,52.3 176.6,53.0 177.2,52.1 177.7,54.3 178.3,53.4 178.9,53.9 179.4,54.6 180.0,54.4 180.6,53.4 181.2,51.7 181.8,50.7 182.3,49.1 182.9,48.8 183.4,53.1 184.0,59.2 184.5,65.8 185.1,61.7 185.7,59.4 186.3,56.9 186.9,57.4 187.5,56.0 188.0,58.0 188.6,57.4 189.2,58.0 189.8,59.0 190.3,61.7 190.9,62.3 191.5,63.8 192.0,68.0 192.6,66.5 193.2,66.0 193.8,65.0" fill="none" stroke="#2a80d0" stroke-width="1.5" stroke-linejoin="round" /><polyline points="130.5,40.0 131.0,40.2 131.5,40.2 131.9,39.6 132.4,42.8 132.9,39.7 133.4,42.0 133.9,42.2 134.3,44.0 134.8,40.9 135.2,43.0 135.7,43.5 136.2,41.4 136.6,42.9 137.1,44.4 137.5,43.6 138.0,44.0 138.5,45.2 139.0,43.3 139.4,44.0 139.9,43.8 140.4,45.7 140.9,47.7 141.4,46.7 141.9,47.8 142.4,46.5 142.8,48.3 143.3,46.1 143.8,48.0 144.4,43.7 145.0,41.0" fill="none" stroke="#2a80d0" stroke-width="2.2" stroke-linejoin="round" /><text x="164.3" y="111.5" font-size="5.2" font-style="italic" style="stroke:#222;stroke-width:0.12px;fill:#222">SECTION</text><rect x="56" y="6" width="140" height="111" fill="none" stroke="#000" stroke-width="2"/><rect x="289.5" y="165.5" width="238" height="85.5" fill="#fff" stroke="#8a8a8a" stroke-width="1"/><rect x="292" y="169" width="25.5" height="11" fill="#cccccc"/><path d="M292 190.3h25.6" stroke="#ea8052" stroke-width="1.4"/><path d="M292 208.6h25.6" stroke="#3f5f1a" stroke-width="1.6"/><path d="M292 226.6h25.6" stroke="#222" stroke-width="1.3"/><path d="M292 242.4h25.6" stroke="#2479c8" stroke-width="1.4" stroke-dasharray="1.2 0.8"/><text x="319.7" y="179" font-size="12">Industrial Demand (kW)</text><text x="319.7" y="195" font-size="12">PV + WT + HKT Real-time Power (kW)</text><text x="319.7" y="210.6" font-size="12">P<tspan font-size="9" dy="4.6">RR</tspan><tspan dy="-4.6"> Real-time Power (kW)</tspan></text><text x="319.7" y="231.3" font-size="12">Industrial Demand Real-time (kW)</text><text x="319.7" y="246.6" font-size="12">LI Battery Real-time Power (kW)</text><rect x="342.2" y="46.7" width="17" height="105.6" fill="none" stroke="#EDB120" stroke-width="1.6"/><path d="M352.5 60.7L242 70.9" stroke="#777" stroke-width="1.2"/><path d="M236.2 71.5L244.7 67.5L243 71.1L245 74.3Z" fill="#111" stroke="#111" stroke-width="0.6" stroke-linejoin="round"/><text x="364.2" y="64.8" font-size="10.2" font-style="italic">SECTION</text></svg></body></html>
